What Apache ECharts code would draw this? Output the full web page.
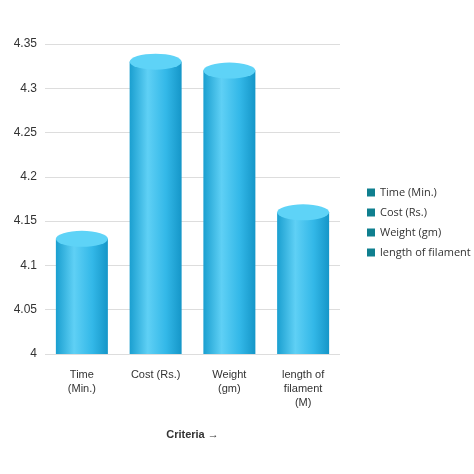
<!DOCTYPE html><html><head><meta charset="utf-8"><script src="https://cdn.jsdelivr.net/npm/echarts@6/dist/echarts.min.js"></script></head><body style="margin:0;background:#fff"><div id="c" style="width:474px;height:474px"></div><script>
const categories=['Time\n(Min.)','Cost (Rs.)','Weight\n(gm)','length of\nfilament\n(M)'];
const names=['Time (Min.)','Cost (Rs.)','Weight (gm)','length of filament (M)'];
const values=[4.13,4.33,4.32,4.16];
const grad=new echarts.graphic.LinearGradient(0,0,1,0,[{offset:0,color:'#1a9fd0'},{offset:0.35,color:'#5fd0f5'},{offset:0.7,color:'#33b8e8'},{offset:1,color:'#1596c8'}]);
const series=names.map((n,i)=>({name:n,type:'bar',barWidth:52,barGap:'-100%',
 data:values.map((v,j)=>j===i?v:'-'),itemStyle:{color:grad},z:2}));
series.push({type:'pictorialBar',symbol:'circle',symbolSize:[52,16],symbolPosition:'end',symbolOffset:[0,'-50%'],
 data:values,itemStyle:{color:'#5ed3f7'},z:3,silent:true,clip:false});
series.push({type:'pictorialBar',symbol:'circle',symbolSize:[64,14],symbolPosition:'start',symbolOffset:[0,'50%'],
 data:values,itemStyle:{color:'#3b3a10',borderColor:'#c8c81e',borderWidth:2},z:1,silent:true,clip:false});
echarts.init(document.getElementById('c')).setOption({
 animation:false,
 grid:{left:45,right:134,top:44,bottom:120},
 legend:{orient:'vertical',left:362,top:182,itemGap:9,itemWidth:8,itemHeight:8,icon:'rect',data:names,
  itemStyle:{color:'#0f7f8f'},
  textStyle:{fontSize:11,color:'#333',fontFamily:'Open Sans'},formatter:n=>n.length>18?'length of filament':n},
 xAxis:{type:'category',data:categories,name:'Criteria →',nameLocation:'middle',nameGap:75,
  nameTextStyle:{fontSize:11,fontWeight:'bold',color:'#333'},
  axisLine:{show:false},axisTick:{show:false},axisLabel:{fontSize:11,color:'#333',lineHeight:14,margin:14}},
 yAxis:{type:'value',min:4,max:4.35,interval:0.05,axisLabel:{fontSize:12,color:'#333'},
  splitLine:{lineStyle:{color:'#ddd'}},axisLine:{show:false}},
 series
});
</script></body></html>
